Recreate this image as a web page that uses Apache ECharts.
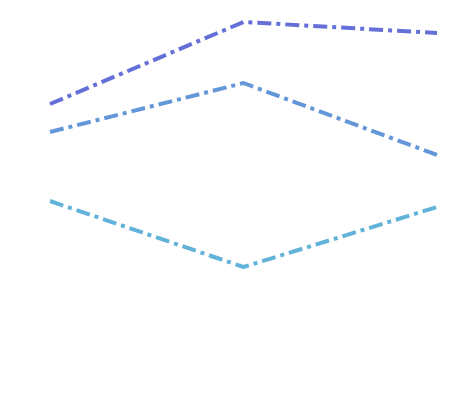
<!DOCTYPE html>
<html>
<head>
<meta charset="utf-8">
<script src="https://cdn.jsdelivr.net/npm/echarts@6/dist/echarts.min.js"></script>
<style>html,body{margin:0;padding:0;background:#fff}#c{width:474px;height:413px}</style>
</head>
<body>
<div id="c"></div>
<script>
const categories = ['A', 'B', 'C'];
const seriesA = [296, 378, 367];
const seriesB = [268, 317, 245];
const seriesC = [199, 133, 193];
const colors = ['#6470d8', '#6497d8', '#62b3da'];

const chart = echarts.init(document.getElementById('c'));
const dash = [14, 5, 4, 5];
function mk(data, color) {
  return {
    type: 'line', data: data, symbol: 'none', silent: true,
    lineStyle: { color: color, width: 4, type: dash, cap: 'butt' }
  };
}
chart.setOption({
  animation: false,
  grid: { left: 50, right: 37, top: 0, bottom: 13 },
  xAxis: { type: 'category', data: categories, boundaryGap: false, show: false },
  yAxis: { type: 'value', min: 0, max: 400, show: false },
  series: [mk(seriesA, colors[0]), mk(seriesB, colors[1]), mk(seriesC, colors[2])]
});
</script>
</body>
</html>
